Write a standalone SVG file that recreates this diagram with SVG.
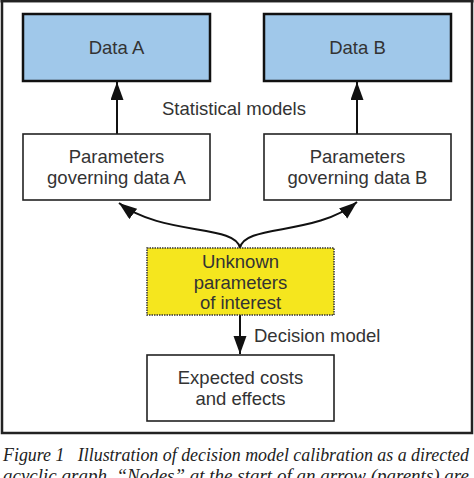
<svg xmlns="http://www.w3.org/2000/svg" width="474" height="478" viewBox="0 0 474 478">
<style>
.t{font-family:"Liberation Sans",Arial,sans-serif;font-size:18.5px;fill:#333;text-anchor:middle}
.lbl{font-family:"Liberation Sans",Arial,sans-serif;font-size:18.5px;fill:#333}
.blue{fill:#a0c8ea;stroke:#111;stroke-width:2.5}
.white{fill:#fff;stroke:#222;stroke-width:1.6}
.yel{fill:#f5e61e;stroke:#333;stroke-width:1.5;stroke-dasharray:1.5 1}
.c{fill:none;stroke:#111;stroke-width:2}
.cap{font-family:"Liberation Serif","Times New Roman",serif;font-style:italic;font-size:19px;fill:#222;white-space:pre}
</style>
<defs>
<marker id="ah" markerUnits="userSpaceOnUse" markerWidth="19" markerHeight="14" refX="18" refY="6.5" orient="auto">
<path d="M0,0 L18,6.5 L0,13 z" fill="#111"/>
</marker>
</defs>
<rect x="0" y="0" width="474" height="478" fill="#fff"/>
<rect x="0" y="0" width="474" height="2.5" fill="#8a8a8a"/>
<rect x="2" y="1" width="470" height="432" fill="none" stroke="#222" stroke-width="2.5"/>

<g id="connectors">
<path class="c" d="M117,134 L117,82" marker-end="url(#ah)"/>
<path class="c" d="M357,134 L357,82" marker-end="url(#ah)"/>
<path class="c" d="M240,248 C236,224 162,236 119,203" marker-end="url(#ah)"/>
<path class="c" d="M240,248 C244,224 316,236 357,202" marker-end="url(#ah)"/>
<path class="c" d="M240,315 L240,354" marker-end="url(#ah)"/>
<text class="t" x="234" y="115">Statistical models</text>
<text class="lbl" x="254" y="342">Decision model</text>
</g>

<g id="dataA">
<rect class="blue" x="23" y="14" width="187" height="67"/>
<text class="t" x="116.5" y="54">Data A</text>
</g>
<g id="dataB">
<rect class="blue" x="264" y="14" width="187" height="67"/>
<text class="t" x="357.5" y="54">Data B</text>
</g>
<g id="paramsA">
<rect class="white" x="23" y="134" width="187" height="66"/>
<text class="t" x="116.5" y="163">Parameters</text>
<text class="t" x="116.5" y="184">governing data A</text>
</g>
<g id="paramsB">
<rect class="white" x="264" y="134" width="187" height="66"/>
<text class="t" x="357.5" y="163">Parameters</text>
<text class="t" x="357.5" y="184">governing data B</text>
</g>
<g id="unknown">
<rect class="yel" x="147" y="248" width="187" height="67"/>
<text class="t" x="240.5" y="268">Unknown</text>
<text class="t" x="240.5" y="289">parameters</text>
<text class="t" x="240.5" y="309">of interest</text>
</g>
<g id="expected">
<rect class="white" x="147" y="355" width="187" height="66"/>
<text class="t" x="240.5" y="384">Expected costs</text>
<text class="t" x="240.5" y="405">and effects</text>
</g>

<text class="cap" x="3" y="461" textLength="466" lengthAdjust="spacingAndGlyphs" xml:space="preserve">Figure 1   Illustration of decision model calibration as a directed</text>
<text class="cap" x="3" y="482" textLength="466" lengthAdjust="spacingAndGlyphs">acyclic graph. “Nodes” at the start of an arrow (parents) are</text>
</svg>
